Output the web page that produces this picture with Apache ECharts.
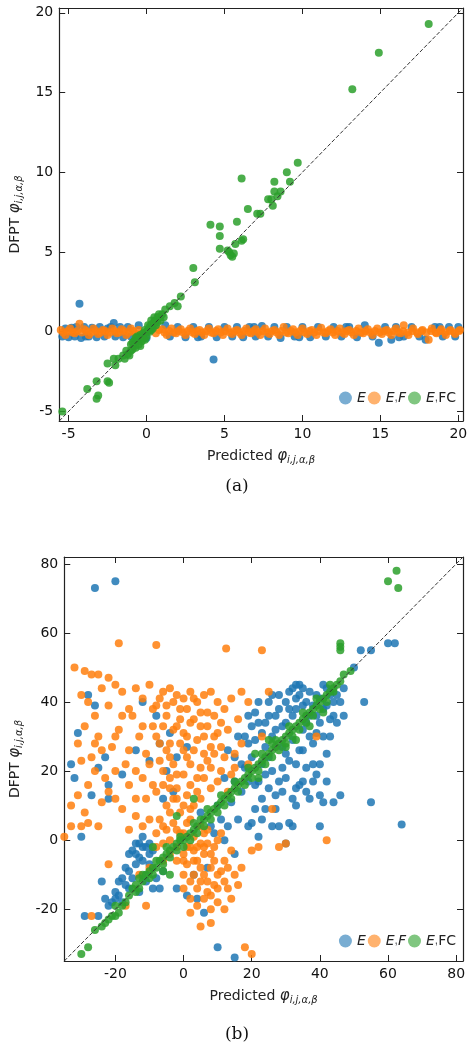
<!DOCTYPE html>
<html><head><meta charset="utf-8">
<script src="https://cdn.jsdelivr.net/npm/echarts@6/dist/echarts.min.js"></script>
<style>html,body{margin:0;padding:0;background:#fff}#c{width:474px;height:1052px}</style>
</head><body><div id="c"></div>
<script>
const seriesNames = ['E','E,F','E,FC'];
const xTicksA = [-5,0,5,10,15,20];
const xTicksB = [-20,0,20,40,60,80];
const aE = [[-5.4,-0.3],[-5.2,0.2],[-5,-0.35],[-4.8,0.25],[-4.6,-0.3],[-4.5,0.3],[-4.3,1.75],[-4.2,-0.4],[-4,0.3],[-3.7,-0.3],[-3.5,0.25],[-3.2,-0.35],[-3,0.3],[-2.7,-0.3],[-2.5,0.2],[-2.1,0.55],[-2,-0.3],[-1.7,0.3],[-1.5,-0.35],[-1.2,0.3],[-1,-0.3],[-0.5,0.4],[0,-0.4],[0.5,0.35],[1.2,0.4],[1.5,-0.3],[2,0.3],[2.5,-0.35],[3,0.3],[3.5,-0.3],[4,0.3],[4.3,-1.75],[4.5,-0.35],[5,0.3],[5.5,-0.3],[5.8,0.3],[6.2,-0.35],[6.6,0.3],[7,-0.3],[7.4,0.35],[7.8,-0.3],[8.2,0.3],[8.6,-0.4],[9,0.3],[9.5,-0.3],[10,0.3],[10.5,-0.35],[11,0.3],[11.5,-0.3],[12,0.3],[12.5,-0.3],[13,0.3],[13.5,-0.35],[14,0.4],[14.5,-0.3],[14.9,-0.7],[15.3,0.3],[15.7,-0.5],[16,0.3],[16.5,-0.3],[17,0.3],[17.5,-0.3],[17.9,-0.5],[18.5,0.3],[19,-0.3],[19.4,0.3],[19.8,-0.3],[20,0.3],[-3.9,-0.3],[-2.3,0.3],[3.3,-0.35],[6.9,0.3],[9.8,-0.35],[12.8,0.3],[16.2,-0.35],[18.8,0.3]];
const aEF = [[-5.5,0.1],[-5.2,-0.2],[-4.9,0.2],[-4.6,-0.1],[-4.3,0.5],[-4,0.15],[-3.7,-0.2],[-3.4,0.2],[-3.1,-0.15],[-2.8,0.1],[-2.5,-0.2],[-2.2,0.2],[-1.9,-0.1],[-1.6,0.15],[-1.3,-0.2],[-1,0.2],[-0.7,-0.15],[1,0.15],[1.3,-0.2],[1.6,0.2],[1.9,-0.1],[2.2,0.15],[2.5,-0.2],[2.8,0.2],[3.1,-0.15],[3.4,0.1],[3.7,-0.2],[4,0.2],[4.3,-0.1],[4.6,0.15],[4.9,-0.2],[5.2,0.2],[5.5,-0.15],[5.8,0.1],[6.1,-0.2],[6.4,0.2],[6.7,-0.1],[7,0.15],[7.3,-0.2],[7.6,0.2],[7.9,-0.15],[8.2,0.1],[8.5,-0.2],[8.8,0.3],[9.1,-0.1],[9.4,0.15],[9.7,-0.2],[10,0.2],[10.3,-0.15],[10.6,0.1],[10.9,-0.2],[11.2,0.25],[11.5,-0.1],[11.8,0.15],[12.1,-0.2],[12.4,0.2],[12.7,-0.15],[13,0.1],[13.3,-0.2],[13.6,0.2],[13.9,-0.1],[14.2,0.15],[14.5,-0.2],[14.8,0.2],[15.1,-0.15],[15.4,0.1],[15.7,-0.2],[16,0.2],[16.3,-0.1],[16.5,0.4],[16.8,-0.2],[17.1,0.2],[17.4,-0.15],[17.7,0.1],[18.1,-0.5],[18.3,0.2],[18.6,-0.1],[18.9,0.15],[19.2,-0.2],[19.5,0.1],[19.8,-0.15],[20.1,0.1]];
const aEF2 = [[-5.35,-0.05],[-5.05,0.05],[-4.75,-0.05],[-4.45,0.05],[-4.15,-0.05],[-3.85,0.05],[-3.55,-0.05],[-3.25,0.05],[-2.95,-0.05],[-2.65,0.05],[-2.35,-0.05],[-2.05,0.05],[-1.75,-0.05],[-1.45,0.05],[-1.15,-0.05],[-0.85,0.05],[1.15,-0.05],[1.45,0.05],[1.75,-0.05],[2.05,0.05],[2.35,-0.05],[2.65,0.05],[2.95,-0.05],[3.25,0.05],[3.55,-0.05],[3.85,0.05],[4.15,-0.05],[4.45,0.05],[4.75,-0.05],[5.05,0.05],[5.35,-0.05],[5.65,0.05],[5.95,-0.05],[6.25,0.05],[6.55,-0.05],[6.85,0.05],[7.15,-0.05],[7.45,0.05],[7.75,-0.05],[8.05,0.05],[8.35,-0.05],[8.65,0.05],[8.95,-0.05],[9.25,0.05],[9.55,-0.05],[9.85,0.05],[10.15,-0.05],[10.45,0.05],[10.75,-0.05],[11.05,0.05],[11.35,-0.05],[11.65,0.05],[11.95,-0.05],[12.25,0.05],[12.55,-0.05],[12.85,0.05],[13.15,-0.05],[13.45,0.05],[13.75,-0.05],[14.05,0.05],[14.35,-0.05],[14.65,0.05],[14.95,-0.05],[15.25,0.05],[15.55,-0.05],[15.85,0.05],[16.15,-0.05],[16.45,0.05],[16.75,-0.05],[17.05,0.05],[17.35,-0.05],[17.65,0.05],[17.95,-0.05],[18.25,0.05],[18.55,-0.05],[18.85,0.05],[19.15,-0.05],[19.45,0.05],[19.75,-0.05],[20.05,0.05],[-0.5,0.1],[-0.3,-0.1],[0.2,0.1],[0.6,-0.1],[0.8,0.1]];
const aEFC = [[-5.4,-5],[-3.2,-4.2],[-3.1,-4],[-3.8,-3.6],[-3.2,-3.1],[-2.5,-3.1],[-2.4,-3.2],[-2.5,-2],[-2.1,-1.7],[-2,-2.1],[-1.8,-1.7],[-1.5,-1.5],[-1.3,-1.2],[-1.2,-1.4],[-1,-1.2],[-1,-0.8],[-0.9,-1.1],[-0.8,-0.9],[-0.8,-0.6],[-0.7,-1],[-0.6,-0.6],[-0.6,-0.3],[-0.5,-0.8],[-0.5,-0.4],[-0.4,-0.2],[-0.3,-0.3],[-0.3,-0.6],[-0.2,-0.1],[-0.2,-0.4],[-0.1,0.1],[0,0],[0,-0.3],[0.1,0.1],[0.1,0.4],[0.2,0.3],[0.2,0],[0.3,0.4],[0.3,0.7],[0.4,0.5],[0.4,0.2],[0.5,0.6],[0.5,0.9],[0.6,0.7],[0.6,0.4],[0.7,0.9],[0.8,0.9],[0.8,1.1],[1,1.1],[1.2,1.4],[1.5,1.6],[1.8,1.8],[2,1.6],[2.2,2.2],[3,4],[3.1,3.1],[4.1,6.7],[4.7,6.6],[4.7,6],[4.7,5.2],[5.2,5.1],[5.3,5],[5.4,4.8],[5.5,4.7],[5.6,4.9],[5.7,5.5],[6.1,5.7],[6.2,5.8],[5.8,6.9],[6.1,9.6],[6.5,7.7],[7.1,7.4],[7.3,7.4],[7.8,8.3],[8,8.3],[8.1,7.9],[8.2,8.8],[8.2,9.4],[8.4,8.5],[8.6,8.8],[9,10],[9.2,9.4],[9.7,10.6],[13.2,15.2],[14.9,17.5],[18.1,19.3],[-1.4,-1.7],[-1.1,-1.5],[-0.9,-0.7],[-0.4,-0.9],[-0.1,-0.5],[0.3,0.1],[0.7,0.6],[0.9,0.7],[1.1,0.9],[-0.7,-0.4]];
const bE = [[-26,73],[-20,75],[-33,22],[-31,31],[-32,18],[-30,1],[-28,42],[-26,39],[-25,21],[-23,24],[-22,16],[-27,13],[-24,-12],[-23,-17],[-22,-19],[-21,-18],[-20,-15],[-19,-16],[-18,-11],[-17,-13],[-16,-9],[-15,-3],[-14,-4],[-13,-1],[-12,-6],[-11,-2],[-10,-7],[-9,-3],[-8,-11],[-7,-14],[-6,-9],[-14,26],[-10,23],[-8,36],[-5,20],[-3,14],[-12,40],[-2,-14],[1,-16],[4,-17],[6,-21],[10,-31],[15,-34],[-29,-22],[-25,-22],[5,8],[8,4],[10,10],[12,18],[13,26],[15,24],[16,30],[17,14],[18,21],[19,28],[20,33],[21,37],[22,17],[23,22],[24,34],[25,40],[26,30],[27,36],[28,42],[29,33],[30,25],[31,38],[32,44],[33,41],[34,45],[35,32],[36,40],[37,36],[38,28],[39,42],[40,34],[41,45],[42,39],[43,30],[44,36],[45,34],[21,16],[24,19],[27,13],[29,21],[31,5],[33,15],[35,17],[37,12],[39,19],[40,4],[41,11],[42,17],[46,13],[44,11],[20,5],[23,6],[26,4],[28,4],[32,4],[30,-1],[25,24],[34,26],[38,22],[47,36],[50,50],[52,55],[55,55],[53,40],[55,11],[60,57],[62,57],[64,4.5],[12,0],[15,-4],[3,-10],[7,-8]];
const bE2 = [[-20,-17],[-19,-12],[-18,-18],[-17,-8],[-16,-14],[-15,-11],[-14,-7],[-13,-15],[-12,-2],[-11,-12],[-10,-4],[-9,-14],[-13,-5],[-16,-4],[-14,-1],[-12,1],[-10,-1],[18,30],[19,36],[20,24],[21,29],[22,34],[22,40],[23,31],[24,27],[25,36],[26,42],[27,32],[28,38],[29,27],[30,40],[30,34],[31,43],[32,36],[32,29],[33,45],[33,38],[34,42],[35,44],[35,39],[36,34],[37,43],[38,39],[39,36],[40,41],[41,38],[42,44],[43,42],[44,40],[26,20],[28,17],[30,18],[32,12],[34,16],[36,14],[36,21],[38,17],[40,13],[40,22],[42,25],[29,14],[33,10],[31,23],[25,15],[23,12],[21,9],[19,17],[17,22],[15,17],[14,11],[16,6],[11,6],[13,4],[9,2],[19,4],[22,1],[24,9],[27,9],[45,42],[46,40],[47,44],[43,35],[39,31],[41,30],[37,30],[35,26],[33,22],[-7,28],[-4,31],[-2,24],[1,27],[-6,12],[-18,19],[-22,12]];
const bEF = [[-19,57],[-8,56.5],[12.5,55.5],[23,55],[-32,50],[-29,49],[-27,48],[-25,48],[-22,47],[-30,42],[-28,40],[-26,36],[-24,44],[-22,39],[-20,45],[-18,43],[-16,38],[-14,44],[-12,41],[-10,45],[-8,39],[-6,43],[-4,44],[-2,42],[0,41],[2,43],[4,40],[6,42],[8,43],[10,40],[12,38],[14,41],[17,43],[-31,28],[-29,33],[-27,24],[-25,30],[-23,18],[-21,27],[-19,32],[-17,22],[-15,36],[-13,30],[-11,25],[-9,33],[-7,28],[-5,36],[-3,32],[-1,38],[1,30],[3,35],[5,33],[7,37],[9,30],[11,27],[13,32],[15,25],[17,28],[-31,13],[-29,8],[-28,16],[-26,20],[-24,11],[-22,14],[-20,20],[-18,9],[-16,16],[-14,12],[-12,18],[-10,22],[-8,14],[-6,20],[-4,24],[-2,19],[0,26],[2,22],[4,18],[6,25],[8,21],[10,17],[12,24],[14,19],[-33,4],[-30,4],[-28,5],[-25,4],[-35,1],[-22,-7],[-17,-19],[-13,-10],[-10,6],[-8,2],[-6,-1],[-4,8],[-2,3],[0,10],[2,6],[4,-2],[6,2],[8,-4],[10,0],[12,-6],[14,-3],[-2,-6],[0,-10],[2,-12],[4,-14],[6,-10],[8,-16],[10,-18],[12,-20],[1,-2],[3,-6],[5,-8],[7,-12],[9,-6],[0,2],[-4,-4],[-6,4],[2,-21],[5,-25],[8,-24],[17,-8],[20,-3],[22,-2],[26,9],[28,-2],[30,-1],[39,30],[42,0],[-27,-22],[-11,-19],[18,-31],[20,-33],[23,30],[19,22]];
const bEF2 = [[-9,38],[-7,41],[-5,39],[-3,40],[-1,35],[1,38],[3,41],[5,37],[7,33],[9,36],[11,34],[-8,30],[-6,33],[-4,28],[-2,33],[0,31],[2,34],[4,29],[6,30],[8,27],[10,31],[-7,23],[-5,26],[-3,22],[-1,28],[1,24],[3,26],[5,21],[7,23],[9,25],[-6,16],[-4,18],[-2,15],[0,19],[2,16],[4,14],[6,18],[8,15],[-5,10],[-3,12],[-1,8],[1,13],[3,10],[5,12],[-7,6],[-5,3],[-3,5],[-1,2],[1,5],[3,1],[5,4],[7,-1],[-4,0],[-2,-2],[0,-4],[2,-2],[4,-6],[6,-4],[8,-8],[10,-10],[12,-12],[1,-7],[3,-10],[5,-12],[7,-15],[9,-13],[11,-9],[13,-14],[0,-14],[2,-17],[4,-19],[6,-17],[8,-20],[10,-14],[3,-3],[5,-1],[7,3],[9,-2],[11,2],[13,-8],[15,-10],[16,-13],[14,-17],[-8,-2],[-6,-6],[-10,-8],[-12,4],[-14,7],[-16,3],[-20,30],[-24,26],[-18,36],[-14,20],[-12,33],[-16,26],[-20,12],[-26,28],[-30,23],[-33,10],[-9,16],[-11,12],[13,14],[15,21],[11,20],[16,35],[19,40],[25,43],[-2,12],[0,-6],[6,-2],[2,9],[-4,15]];
const bEFC = [[-30,-33],[-28,-31],[-24,-25],[-23,-24],[-21,-22],[-20,-19],[-19,-21],[-17,-18],[-16,-16],[-15,-14],[-14,-13],[-13,-11],[-12,-12],[-11,-10],[-10,-9],[-9,-8],[-8,-8],[-7,-6],[-6,-5],[-5,-4],[-4,-3],[-3,-2],[-2,-1],[-1,0],[0,0],[1,1],[2,2],[3,3],[4,4],[5,6],[6,6],[7,7],[8,8],[9,9],[10,10],[11,11],[12,12],[13,13],[14,14],[15,15],[16,16],[17,17],[18,18],[19,19],[20,20],[21,21],[22,22],[23,23],[24,24],[25,25],[26,26],[27,27],[28,28],[29,29],[30,30],[31,31],[32,32],[33,33],[34,34],[35,35],[36,36],[37,37],[38,38],[39,39],[40,40],[41,41],[42,42],[43,43],[44,44],[45,45],[46,46],[46,55],[46,56],[46,57],[47,48],[49,49],[-6,-9],[-2,7],[-9,-2],[3,12],[22,18],[26,28],[30,27],[-4,-10],[60,75],[62.5,78],[63,73]];
const bEFC2 = [[-22,-23],[-18,-19],[-14,-15],[-12,-10],[-10,-11],[-8,-6],[-6,-7],[-4,-5],[-2,-3],[0,-2],[2,0],[4,2],[6,4],[8,6],[10,8],[12,10],[14,12],[16,14],[18,16],[20,18],[22,20],[24,22],[26,24],[28,26],[30,28],[32,30],[34,32],[36,34],[38,36],[40,38],[42,40],[44,43],[-13,-14],[-9,-10],[-5,-2],[-1,1],[3,5],[7,9],[11,13],[15,17],[19,21],[23,25],[27,29],[31,33],[35,37],[39,41],[43,45],[21,25],[25,29],[33,29],[37,33],[41,37],[-26,-26],[-20,-22]];

const colors = ['#1f77b4','#ff7f0e','#2ca02c'];
const axisLine = {show:true,onZero:false,lineStyle:{color:'#222',width:1.2}};
const tick = {show:true,inside:true,length:6,lineStyle:{color:'#222',width:1}};
const lbl = {color:'#111',fontSize:14,fontFamily:'DejaVu Sans',margin:6};
const nameRich = {n:{fontSize:14,fontFamily:'DejaVu Sans',color:'#222'},p:{fontSize:15,fontStyle:'italic',fontFamily:'DejaVu Sans',color:'#222'},s:{fontSize:10,fontStyle:'italic',fontFamily:'DejaVu Sans',color:'#222',padding:[8,0,0,0]}};
const ranges = [[-5.6,20.3,5],[-35,82,20]];
const xAxes=[],yAxes=[];
ranges.forEach((r,i)=>{
  const tv=i?xTicksB:xTicksA;
  const base={type:'value',min:r[0],max:r[1],splitLine:{show:false},axisLine,gridIndex:i};
  const t=Object.assign({},tick,{customValues:tv});
  xAxes.push(Object.assign({},base,{position:'bottom',axisLabel:Object.assign({},lbl,{customValues:tv}),axisTick:t,
    name:'{n|Predicted }{p|φ}{s|i,j,α,β}',nameLocation:'middle',nameGap:26,nameTextStyle:{rich:nameRich}}));
  xAxes.push(Object.assign({},base,{position:'top',axisLabel:{show:false},axisTick:t}));
  yAxes.push(Object.assign({},base,{position:'left',axisLabel:Object.assign({},lbl,{customValues:tv}),axisTick:t,
    name:'{n|DFPT }{p|φ}{s|i,j,α,β}',nameLocation:'middle',nameGap:i?30:26,nameTextStyle:{rich:nameRich}}));
  yAxes.push(Object.assign({},base,{position:'right',axisLabel:{show:false},axisTick:t}));
});
const sets=[[aE,aEF.concat(aEF2),aEFC],[bE.concat(bE2),bEF.concat(bEF2),bEFC.concat(bEFC2)]];
const series=[];
sets.forEach((s,i)=>{
  s.forEach((d,k)=>series.push({type:'scatter',name:seriesNames[k],xAxisIndex:i*2,yAxisIndex:i*2,data:d,symbolSize:8,itemStyle:{color:colors[k],opacity:0.85},z:2+k}));
  const r=ranges[i];
  series.push({type:'line',xAxisIndex:i*2,yAxisIndex:i*2,data:[[r[0],r[0]],[r[1],r[1]]],symbol:'none',lineStyle:{color:'#333',width:1,type:[4,2]},z:6,silent:true});
});
const legRich={e:{fontStyle:'italic',fontSize:14,fontFamily:'DejaVu Sans',color:'#222'},r:{fontSize:14,fontFamily:'DejaVu Sans',color:'#222'}};
const legFmt=n=>n==='E'?'{e|E}':n==='E,F'?'{e|E},{e|F}':'{e|E},{r|FC}';
const mkLeg=(top)=>({data:seriesNames,right:18,top,icon:'circle',itemWidth:13,itemHeight:13,itemGap:2,padding:0,formatter:legFmt,textStyle:{rich:legRich},selectedMode:false,itemStyle:{opacity:0.6}});
const chart=echarts.init(document.getElementById('c'));
chart.setOption({
  animation:false,
  grid:[{left:52,top:8,width:411,height:413},{left:52,top:557,width:411,height:404}],
  xAxis:xAxes,yAxis:yAxes,series,
  legend:[mkLeg(391),mkLeg(934)],
  title:[{text:'(a)',left:'center',top:473,textStyle:{fontFamily:'DejaVu Serif',fontWeight:'normal',fontSize:17,color:'#111'}},
         {text:'(b)',left:'center',top:1021,textStyle:{fontFamily:'DejaVu Serif',fontWeight:'normal',fontSize:17,color:'#111'}}]
});
</script></body></html>
